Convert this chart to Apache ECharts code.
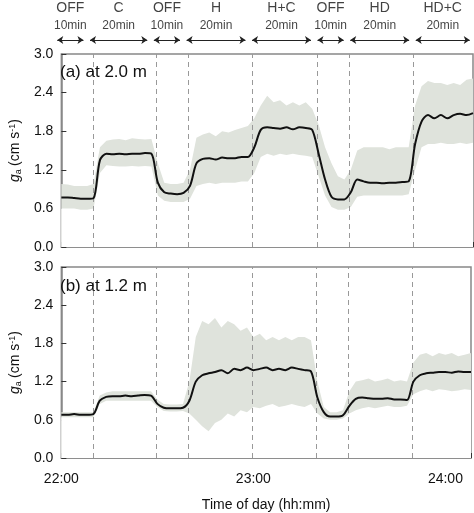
<!DOCTYPE html><html><head><meta charset="utf-8"><script src="https://cdn.jsdelivr.net/npm/echarts@6/dist/echarts.min.js"></script>
<style>html,body{margin:0;padding:0;background:#fff}#c{width:474px;height:513px}</style></head><body><div id="c"></div><script>
// minutes after 22:00, step 2
const times=[];for(let t=0;t<=128;t+=2)times.push(t);
const meanA=[.77,.77,.76,.75,.75,.76,1.35,1.45,1.44,1.45,1.44,1.45,1.45,1.46,1.45,1.0,.85,.83,.82,.84,.95,1.3,1.37,1.38,1.36,1.39,1.38,1.38,1.40,1.40,1.55,1.82,1.86,1.85,1.84,1.86,1.83,1.86,1.85,1.82,1.45,1.05,.78,.74,.74,.85,1.05,1.02,1.0,1.0,.99,1.0,1.0,1.01,1.02,1.6,1.95,2.05,2.0,2.05,2.0,2.05,2.07,2.05,2.08];
const upperA=[.98,.97,.95,.95,.95,.98,1.55,1.65,1.67,1.68,1.66,1.69,1.68,1.67,1.68,1.3,1.0,.98,.98,1.0,1.2,1.7,1.75,1.78,1.72,1.8,1.78,1.82,1.85,1.88,2.0,2.2,2.35,2.25,2.28,2.2,2.25,2.2,2.25,2.15,1.9,1.55,1.3,1.1,1.05,1.2,1.5,1.55,1.55,1.55,1.55,1.52,1.55,1.55,1.55,2.2,2.5,2.58,2.55,2.55,2.52,2.55,2.52,2.6,2.62];
const lowerA=[.6,.6,.6,.58,.58,.6,1.15,1.27,1.26,1.25,1.25,1.26,1.25,1.26,1.25,.8,.72,.7,.7,.7,.75,.95,.98,1.0,.98,1.0,1.0,1.0,1.02,1.02,1.15,1.4,1.45,1.42,1.45,1.43,1.45,1.43,1.42,1.4,1.1,.8,.62,.58,.58,.62,.78,.8,.8,.8,.8,.8,.8,.8,.82,1.2,1.55,1.6,1.6,1.62,1.6,1.6,1.62,1.6,1.62];
const meanB=[.68,.68,.69,.68,.68,.69,.9,.96,.97,.97,.98,.97,.98,.99,.98,.85,.79,.78,.78,.79,.9,1.2,1.3,1.33,1.35,1.38,1.33,1.40,1.38,1.42,1.38,1.40,1.42,1.38,1.40,1.38,1.42,1.40,1.38,1.36,.95,.72,.65,.65,.67,.82,.93,.95,.94,.93,.93,.94,.92,.92,.91,1.2,1.3,1.33,1.34,1.35,1.35,1.34,1.36,1.35,1.35];
const upperB=[.72,.72,.72,.72,.72,.72,.98,1.03,1.05,1.05,1.05,1.05,1.05,1.05,1.05,.92,.85,.84,.84,.85,1.2,1.9,2.15,2.1,2.2,2.05,2.15,2.1,2.0,2.05,1.9,1.95,1.85,1.9,1.85,1.9,1.85,1.9,1.9,1.85,1.2,.8,.72,.72,.75,1.05,1.2,1.22,1.25,1.2,1.22,1.25,1.2,1.22,1.2,1.5,1.62,1.65,1.6,1.65,1.62,1.65,1.6,1.62,1.65];
const lowerB=[.64,.64,.64,.64,.64,.64,.85,.9,.9,.9,.9,.9,.9,.9,.9,.8,.74,.73,.73,.74,.7,.6,.5,.42,.55,.6,.7,.65,.75,.72,.8,.78,.82,.85,.8,.82,.85,.82,.8,.85,.7,.62,.6,.6,.62,.7,.75,.78,.8,.78,.8,.82,.8,.8,.82,1.0,1.05,1.08,1.05,1.08,1.07,1.05,1.06,1.08,1.07];
const phaseBounds=[0,10,29.5,39.5,59.5,79.5,89.5,109.5,128];
const phaseNames=['OFF','C','OFF','H','H+C','OFF','HD','HD+C'];
const phaseDur=['10min','20min','10min','20min','20min','10min','20min','20min'];
const xTicks={0:'22:00',60:'23:00',120:'24:00'};
const panelTitles=['(a) at 2.0 m','(b) at 1.2 m'];

const chart=echarts.init(document.getElementById('c'));
const ax='#888';
function xa(gi,showLab){return {type:'value',gridIndex:gi,min:0,max:128,interval:60,
 axisLine:{lineStyle:{color:ax,width:1.5}},axisTick:{show:true,inside:true,lineStyle:{color:'#333'}},splitLine:{show:false},
 axisLabel:{show:showLab,color:'#111',fontSize:14,margin:14,formatter:v=>xTicks[v]||''},
 name:showLab?'Time of day (hh:mm)':'',nameLocation:'middle',nameGap:40,nameTextStyle:{color:'#111',fontSize:14}};}
function ya(gi){return {type:'value',gridIndex:gi,min:0,max:3,interval:0.6,
 axisLine:{show:true,lineStyle:{color:ax,width:1.5}},axisTick:{show:true,inside:true,lineStyle:{color:'#333'}},splitLine:{show:false},
 axisLabel:{color:'#111',fontSize:14,formatter:v=>v.toFixed(1)},
 name:'{g|g}{s|a} {n|(cm s}{s2|-1}{n|)}',nameLocation:'middle',nameGap:34,
 nameTextStyle:{rich:{g:{fontSize:14,fontStyle:'italic',color:'#111'},s:{fontSize:9,color:'#111',verticalAlign:'bottom',padding:[6,0,0,0]},n:{fontSize:14,color:'#111'},s2:{fontSize:9,color:'#111',verticalAlign:'top',padding:[0,0,6,0]}}}};}
const series=[];
const sets=[[meanA,lowerA,upperA],[meanB,lowerB,upperB]];
sets.forEach(([m,lo,up],i)=>{
 series.push({type:'line',xAxisIndex:i,yAxisIndex:i,data:times.map((t,k)=>[t,up[k]]),symbol:'none',lineStyle:{opacity:0},areaStyle:{color:'#dfe3dc',opacity:1,origin:'start'},silent:true,z:1});
 series.push({type:'line',xAxisIndex:i,yAxisIndex:i,data:times.map((t,k)=>[t,lo[k]]),symbol:'none',lineStyle:{opacity:0},areaStyle:{color:'#ffffff',opacity:1,origin:'start'},silent:true,z:2});
 series.push({type:'line',xAxisIndex:i,yAxisIndex:i,data:times.map((t,k)=>[t,m[k]]),symbol:'none',smooth:0.3,lineStyle:{color:'#111',width:2},z:5,
  markLine:{silent:true,symbol:'none',label:{show:false},lineStyle:{color:'#999',type:[5,4],width:1},data:phaseBounds.slice(1,-1).map(v=>({xAxis:v}))}});
});
// header (y measured in px from top of header strip)
series.push({type:'lines',coordinateSystem:'cartesian2d',xAxisIndex:2,yAxisIndex:2,symbol:['arrow','arrow'],symbolSize:6,
 lineStyle:{color:'#222',width:1,opacity:1},data:phaseNames.map((n,k)=>({coords:[[phaseBounds[k]+1,40],[phaseBounds[k+1]-1,40]]}))});
series.push({type:'scatter',xAxisIndex:2,yAxisIndex:2,symbolSize:0,data:phaseNames.map((n,k)=>({value:[(phaseBounds[k]+phaseBounds[k+1])/2,8],label:{show:true,formatter:n,fontSize:14,color:'#111'}}))});
series.push({type:'scatter',xAxisIndex:2,yAxisIndex:2,symbolSize:0,data:phaseDur.map((n,k)=>({value:[(phaseBounds[k]+phaseBounds[k+1])/2,26],label:{show:true,formatter:n,fontSize:12,color:'#111'}}))});
chart.setOption({animation:false,
 grid:[{left:54,right:1,top:54,height:193,show:true,borderColor:ax,borderWidth:1.5},
       {left:54,right:1,top:267,height:195,show:true,borderColor:ax,borderWidth:1.5},
       {left:54,right:1,top:0,height:50}],
 xAxis:[xa(0,false),xa(1,true),{type:'value',gridIndex:2,min:0,max:128,show:false}],
 yAxis:[ya(0),ya(1),{type:'value',gridIndex:2,min:0,max:50,inverse:true,show:false}],
 graphic:panelTitles.map((t,i)=>({type:'text',left:60,top:i?278:64,z:100,style:{text:t,fontSize:17,fill:'#111'}})),
 series});
</script></body></html>
